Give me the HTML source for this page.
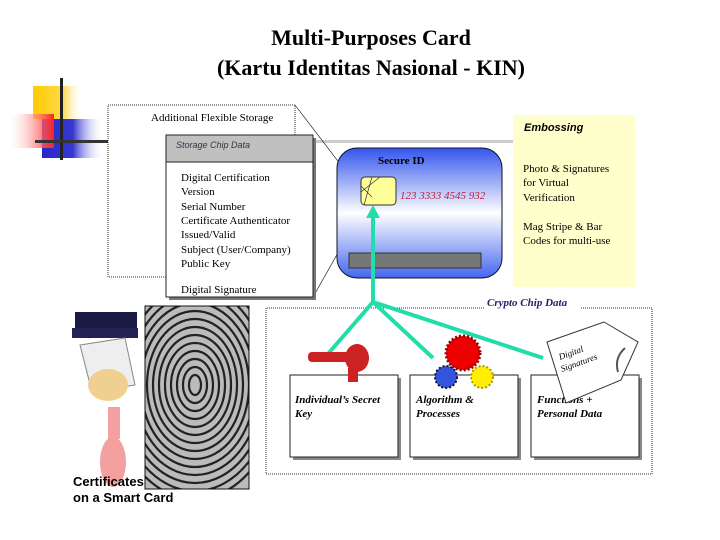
<!DOCTYPE html>
<html><head><style>
body{margin:0;background:#fff;}
svg{display:block;}
.s{font-family:"Liberation Serif",serif;}
</style></head><body>
<svg width="720" height="540" viewBox="0 0 720 540" xmlns="http://www.w3.org/2000/svg">
<defs>
<linearGradient id="yg" x1="0" x2="1"><stop offset="0" stop-color="#ffcc00"/><stop offset="0.6" stop-color="#ffd84a"/><stop offset="1" stop-color="#fff" stop-opacity="0"/></linearGradient>
<linearGradient id="rg" x1="1" x2="0"><stop offset="0" stop-color="#ff2020"/><stop offset="1" stop-color="#fff" stop-opacity="0.2"/></linearGradient>
<linearGradient id="bg" x1="0" x2="1"><stop offset="0" stop-color="#2828c8"/><stop offset="0.5" stop-color="#3838d0"/><stop offset="1" stop-color="#fff" stop-opacity="0"/></linearGradient>
<linearGradient id="cg" x1="0" y1="0" x2="0" y2="1"><stop offset="0" stop-color="#3355ee"/><stop offset="0.5" stop-color="#ffffff"/><stop offset="1" stop-color="#4466ee"/></linearGradient>
<clipPath id="fc"><rect x="145" y="306" width="104" height="183"/></clipPath>
</defs>
<text x="371" y="45" text-anchor="middle" class="s" font-size="22" font-weight="bold">Multi-Purposes Card</text>
<text x="371" y="75" text-anchor="middle" class="s" font-size="22" font-weight="bold">(Kartu Identitas Nasional - KIN)</text>
<rect x="33" y="86" width="50" height="33" fill="url(#yg)"/>
<rect x="42" y="119" width="62" height="39" fill="url(#bg)"/>
<rect x="10" y="114" width="44" height="34" fill="url(#rg)"/>
<rect x="60" y="78" width="3" height="82" fill="#222"/>
<rect x="35" y="140" width="75" height="3" fill="#333"/>
<rect x="110" y="140" width="405" height="3" fill="#ccc"/>
<rect x="108" y="105" width="187" height="172" fill="#fff" stroke="#333" stroke-dasharray="1,1"/>
<text x="151" y="121" class="s" font-size="11">Additional Flexible Storage</text>
<line x1="295" y1="105" x2="360" y2="190" stroke="#000" stroke-width="0.6"/>
<line x1="313" y1="297" x2="365" y2="205" stroke="#000" stroke-width="0.6"/>
<rect x="169" y="138" width="147" height="162" fill="#777"/>
<rect x="166" y="135" width="147" height="162" fill="#fff" stroke="#222"/>
<rect x="166" y="135" width="147" height="27" fill="#c0c0c0" stroke="#222"/>
<text x="176" y="148" font-family="Liberation Sans,sans-serif" font-size="9" font-style="italic" fill="#334">Storage Chip Data</text>
<g class="s" font-size="11">
<text x="181" y="181">Digital Certification</text>
<text x="181" y="195">Version</text>
<text x="181" y="210">Serial Number</text>
<text x="181" y="224">Certificate Authenticator</text>
<text x="181" y="238">Issued/Valid</text>
<text x="181" y="253">Subject (User/Company)</text>
<text x="181" y="267">Public Key</text>
<text x="181" y="293">Digital Signature</text>
</g>
<rect x="337" y="148" width="165" height="130" rx="20" fill="url(#cg)" stroke="#112"/>
<text x="378" y="164" class="s" font-size="11" font-weight="bold">Secure  ID</text>
<rect x="361" y="177" width="35" height="28" rx="4" fill="#ffff99" stroke="#333"/>
<path d="M361 186 L372 197 M372 177 L364 205 M361 192 L380 177" stroke="#333" stroke-width="0.7" fill="none"/>
<text x="400" y="199" class="s" font-size="11" font-style="italic" fill="#c0203a">123 3333 4545 932</text>
<rect x="349" y="253" width="132" height="15" fill="#777" stroke="#333"/>
<rect x="513" y="115" width="122" height="172" fill="#ffffcc"/>
<text x="524" y="131" font-family="Liberation Sans,sans-serif" font-size="11" font-style="italic" font-weight="bold">Embossing</text>
<g class="s" font-size="11">
<text x="523" y="172">Photo &amp; Signatures</text>
<text x="523" y="186">for  Virtual</text>
<text x="523" y="201">Verification</text>
<text x="523" y="230">Mag Stripe &amp; Bar</text>
<text x="523" y="244">Codes for multi-use</text>
</g>
<path d="M484 308 H266 V474 H652 V308 H580" fill="none" stroke="#333" stroke-dasharray="1,1"/>
<text x="487" y="306" class="s" font-size="11" font-style="italic" font-weight="bold" fill="#222266">Crypto Chip Data</text>
<g stroke="#22ddaa" stroke-width="4" fill="none">
<line x1="373" y1="302" x2="373" y2="215"/>
<line x1="373" y1="302" x2="327" y2="355"/>
<line x1="373" y1="302" x2="433" y2="358"/>
<line x1="373" y1="302" x2="543" y2="358"/>
</g>
<polygon points="366,218 373,205 380,218" fill="#22ddaa"/>
<g fill="#fff" stroke="#222">
<rect x="293" y="378" width="108" height="82" fill="#888" stroke="none"/>
<rect x="290" y="375" width="108" height="82"/>
<rect x="413" y="378" width="108" height="82" fill="#888" stroke="none"/>
<rect x="410" y="375" width="108" height="82"/>
<rect x="534" y="378" width="108" height="82" fill="#888" stroke="none"/>
<rect x="531" y="375" width="108" height="82"/>
</g>
<g class="s" font-size="11" font-style="italic" font-weight="bold">
<text x="295" y="403">Individual’s Secret</text><text x="295" y="417">Key</text>
<text x="416" y="403">Algorithm &amp;</text><text x="416" y="417">Processes</text>
<text x="537" y="403">Functions +</text><text x="537" y="417">Personal Data</text>
</g>
<!-- key -->
<rect x="308" y="352" width="42" height="10" rx="4" fill="#cc2222"/>
<ellipse cx="357" cy="358" rx="12" ry="14" fill="#cc2222"/>
<rect x="348" y="368" width="10" height="14" fill="#cc2222"/>
<circle cx="463" cy="353" r="17" fill="#ee0000" stroke="#990000" stroke-dasharray="2,2" stroke-width="3"/>
<circle cx="446" cy="377" r="11" fill="#3355dd" stroke="#113" stroke-dasharray="2,2" stroke-width="2"/>
<circle cx="482" cy="377" r="11" fill="#ffee00" stroke="#aa9900" stroke-dasharray="2,2" stroke-width="2"/>
<polygon points="547,342 604,322 638,342 621,380 566,403" fill="#fff" stroke="#333"/>
<text x="560" y="360" class="s" font-size="9" font-style="italic" transform="rotate(-20 560 360)">Digital</text>
<text x="562" y="372" class="s" font-size="9" font-style="italic" transform="rotate(-20 562 372)">Signatures</text>
<path d="M625 348 Q614 358 618 372" stroke="#555" stroke-width="2" fill="none"/>
<rect x="75" y="312" width="62" height="18" fill="#1a1a44"/>
<rect x="72" y="328" width="66" height="10" fill="#222255"/>
<polygon points="80,345 125,338 135,385 92,392" fill="#eee" stroke="#888"/>
<ellipse cx="108" cy="385" rx="20" ry="16" fill="#f0d090"/>
<rect x="108" y="407" width="12" height="32" fill="#f4a0a0"/>
<ellipse cx="113" cy="462" rx="13" ry="25" fill="#f4a0a0"/>
<rect x="145" y="306" width="104" height="183" fill="#bbb" stroke="#111"/>
<g clip-path="url(#fc)" fill="none" stroke="#222" stroke-width="2.2">
<ellipse cx="195" cy="385" rx="6" ry="10"/>
<ellipse cx="195" cy="385" rx="12" ry="18"/>
<ellipse cx="195" cy="385" rx="18" ry="26"/>
<ellipse cx="195" cy="385" rx="24" ry="34"/>
<ellipse cx="195" cy="385" rx="30" ry="42"/>
<ellipse cx="195" cy="385" rx="36" ry="50"/>
<ellipse cx="195" cy="385" rx="42" ry="58"/>
<ellipse cx="195" cy="385" rx="48" ry="66"/>
<ellipse cx="195" cy="385" rx="54" ry="74"/>
<ellipse cx="195" cy="385" rx="60" ry="82"/>
<ellipse cx="195" cy="385" rx="66" ry="90"/>
<ellipse cx="195" cy="385" rx="72" ry="98"/>
<ellipse cx="195" cy="385" rx="78" ry="106"/>
<ellipse cx="195" cy="385" rx="84" ry="114"/>
</g>
<rect x="145" y="306" width="104" height="183" fill="none" stroke="#111"/>
<g font-family="Liberation Sans,sans-serif" font-size="13" font-weight="bold">
<text x="73" y="486">Certificates</text>
<text x="73" y="502">on a Smart Card</text>
</g>
</svg>
</body></html>
